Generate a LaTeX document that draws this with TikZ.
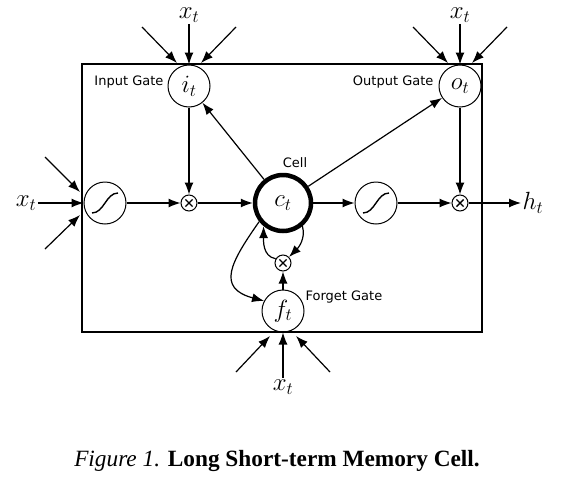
\documentclass[tikz,border=0pt]{standalone}
\usepackage{fontspec}
\setmainfont{Liberation Serif}
\newfontfamily\gatefont{DejaVu Sans}
\usetikzlibrary{arrows.meta}

\tikzset{
  gate/.style = {draw, circle, line width = 1pt, minimum size = 42pt, inner sep = 0pt, font = \fontsize{23}{27}\selectfont},
  cellnode/.style = {gate, line width = 4.5pt, minimum size = 56pt},
  mult/.style = {draw, circle, line width = 1pt, minimum size = 16pt, inner sep = 0pt,
    path picture = {\draw[line width = 1.4pt] ([shift = {(-3.6pt, -3.6pt)}]path picture bounding box.center) -- ([shift = {(3.6pt, 3.6pt)}]path picture bounding box.center)
      ([shift = {(-3.6pt, 3.6pt)}]path picture bounding box.center) -- ([shift = {(3.6pt, -3.6pt)}]path picture bounding box.center);}},
  squash/.style = {gate, path picture = {\draw[line width = 1.4pt] ([shift = {(-13pt, -10pt)}]path picture bounding box.center) .. controls +(12pt, 0pt) and +(-12pt, 0pt) .. ([shift = {(13pt, 10pt)}]path picture bounding box.center);}},
  var/.style = {inner sep = 1pt, font = \fontsize{23}{27}\selectfont},
  gatename/.style = {inner sep = 0pt, font = \gatefont\fontsize{13}{15}\selectfont}
}

\begin{document}
\begin{tikzpicture}[x = 1pt, y = -1pt, line width = 1.2pt, >={Latex[length = 12pt, width = 9pt]}]
\useasboundingbox (0, 0) rectangle (580, 479);
% Block
\draw[line width = 1.5pt] (82, 64) rectangle (482, 332);
% Gates and cell
\node[gate] (it) at (189, 86) {$i_t$};
\node[gate] (ot) at (460, 86) {$o_t$};
\node[cellnode] (ct) at (283, 203) {$c_t$};
\node[gate] (ft) at (283, 311) {$f_t$};
\node[squash] (sin) at (105, 203) {};
\node[squash] (sout) at (376, 203) {};
\node[mult] (mi) at (189, 203) {};
\node[mult] (mo) at (460, 203) {};
\node[mult] (mf) at (283, 263) {};
% Names
\node[gatename, anchor = east] (inname) at (164, 82) {Input Gate};
\node[gatename, anchor = east] (outname) at (434, 82) {Output Gate};
\node[gatename] (cellname) at (295, 163) {Cell};
\node[gatename, anchor = west] (forgetname) at (305, 297) {Forget Gate};
% Inputs and output
\node[var] (xl) at (26, 203) {$x_t$};
\node[var] (xi) at (189, 15) {$x_t$};
\node[var] (xo) at (460, 15) {$x_t$};
\node[var] (xf) at (283, 387) {$x_t$};
\node[var, anchor = west] (ht) at (521, 203) {$h_t$};
% Free ends of the side inputs
\coordinate (la) at (45, 157);
\coordinate (lb) at (45, 249);
\coordinate (lat) at (80, 192);
\coordinate (lbt) at (80, 215);
\coordinate (ia) at (142, 27);
\coordinate (ib) at (236, 27);
\coordinate (iat) at (177, 63);
\coordinate (ibt) at (201, 63);
\coordinate (oa) at (413, 27);
\coordinate (ob) at (507, 27);
\coordinate (oat) at (448, 63);
\coordinate (obt) at (472, 63);
\coordinate (fa) at (236, 372);
\coordinate (fb) at (330, 372);
\coordinate (fat) at (270, 336);
\coordinate (fbt) at (296, 336);
% Input arrows
\draw[->] (xl) -- (sin);
\draw[->] (la) -- (lat);
\draw[->] (lb) -- (lbt);
\draw[->] (xi) -- (it);
\draw[->] (ia) -- (iat);
\draw[->] (ib) -- (ibt);
\draw[->] (xo) -- (ot);
\draw[->] (oa) -- (oat);
\draw[->] (ob) -- (obt);
\draw[->] (xf) -- (ft);
\draw[->] (fa) -- (fat);
\draw[->] (fb) -- (fbt);
% Flow through the cell
\draw[->] (sin) -- (mi);
\draw[->] (it) -- (mi);
\draw[->] (mi) -- (ct);
\draw[->] (ct) -- (it);
\draw[->] (ct) -- (ot);
\draw[->] (ct) -- (sout);
\draw[->] (sout) -- (mo);
\draw[->] (ot) -- (mo);
\draw[->] (mo) -- (ht);
\draw[->] (ft) -- (mf);
% Recurrent loop
\draw[->] (ct.218) to[out = 235, in = 165, looseness = 1.6] (ft.152);
\draw[->] (mf.150) to[out = 170, in = 270] (ct.230);
\draw[->] (ct.310) to[out = 285, in = 45] (mf.45);
% Caption
\node (caption) at (277, 461) {\fontsize{23.3}{27}\selectfont\textit{Figure 1.} \textbf{Long Short-term Memory Cell.}};
\end{tikzpicture}
\end{document}
